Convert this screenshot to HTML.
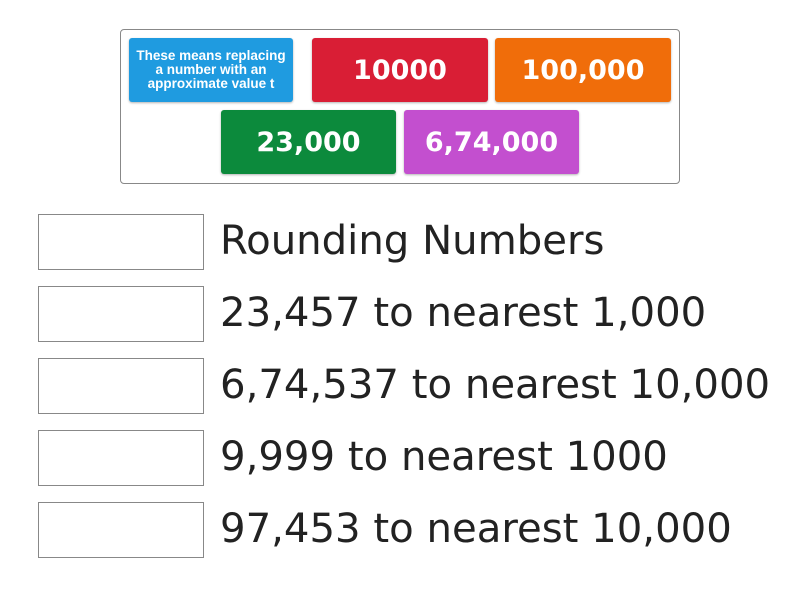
<!DOCTYPE html><html><head><style>
body{margin:0;width:800px;height:600px;background:#fff;font-family:"DejaVu Sans","Liberation Sans",sans-serif;position:relative;overflow:hidden}
.frame{position:absolute;left:120px;top:29px;width:558px;height:153px;border:1px solid #888;border-radius:4px}
.t{position:absolute;color:#fff;font-weight:bold;display:flex;align-items:center;justify-content:center;text-align:center;border-radius:3px;font-size:27px;box-shadow:0 1px 2px rgba(0,0,0,.3)}
.b{position:absolute;left:38px;width:164px;height:54px;border:1px solid #888;background:#fff}
.l{position:absolute;left:220px;font-size:40.2px;color:#222;height:56px;line-height:56px;white-space:nowrap}
</style></head><body>
<div class="frame"></div>
<div class="t" style="left:129px;top:38px;width:164px;height:64px;background:#1f9be0;font-family:'Liberation Sans',sans-serif;font-size:13.5px;line-height:14px;padding:0 3px;box-sizing:border-box">These means replacing a number with an approximate value t</div>
<div class="t" style="left:312px;top:38px;width:176px;height:64px;background:#d91e35">10000</div>
<div class="t" style="left:495px;top:38px;width:176px;height:64px;background:#f06d0a">100,000</div>
<div class="t" style="left:221px;top:110px;width:175px;height:64px;background:#0c8a3c">23,000</div>
<div class="t" style="left:404px;top:110px;width:175px;height:64px;background:#c34fcf">6,74,000</div>
<div class="b" style="top:214px"></div><div class="l" style="top:213px">Rounding Numbers</div>
<div class="b" style="top:286px"></div><div class="l" style="top:285px">23,457 to nearest 1,000</div>
<div class="b" style="top:358px"></div><div class="l" style="top:357px">6,74,537 to nearest 10,000</div>
<div class="b" style="top:430px"></div><div class="l" style="top:429px">9,999 to nearest 1000</div>
<div class="b" style="top:502px"></div><div class="l" style="top:501px">97,453 to nearest 10,000</div>
</body></html>
